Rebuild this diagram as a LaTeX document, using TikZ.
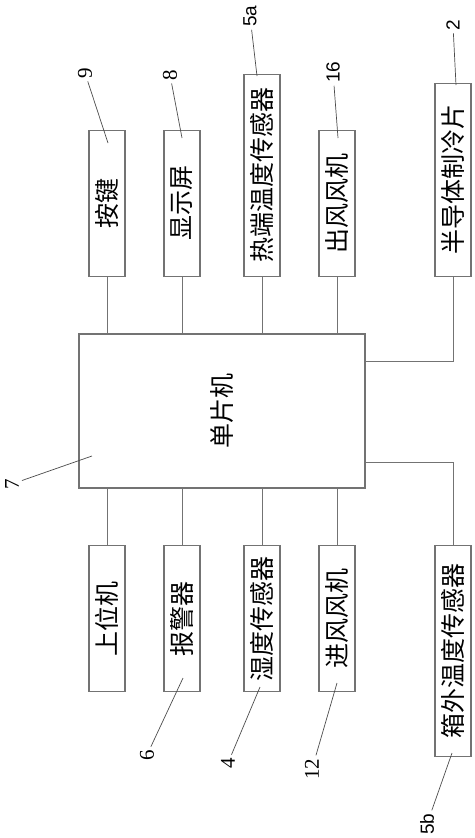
\documentclass[tikz,border=0pt]{standalone}
\usepackage{fontspec}
\setmainfont{Liberation Serif}
\newfontfamily\cjk{Noto Sans CJK SC}
\newfontfamily\numsans{Liberation Sans}
\usetikzlibrary{positioning}
\colorlet{linegray}{black!55}
\newcommand{\rottext}[1]{\rotatebox{90}{#1}}
\tikzset{
  box/.style={draw=linegray, line width=1.1pt, inner sep=0pt, minimum width=36pt,
    font={\cjk\fontsize{25}{25}\selectfont}},
  unit/.style={box, minimum height=146pt},
  tallunit/.style={box, minimum height=202pt},
  % connector styles
  wire/.style={draw=linegray, line width=0.9pt},
  leader/.style={draw=black!70, line width=0.7pt, shorten <=2pt},
  num/.style={rotate=90, inner sep=1pt, font={\fontsize{21}{21}\selectfont}},
  numsf/.style={num, font={\numsans\fontsize{19}{19}\selectfont}}
}

\begin{document}
\begin{tikzpicture}[x=1pt, y=-1pt]
\useasboundingbox (0,0) rectangle (474,838);

% central controller
\node [box, minimum width=286pt, minimum height=154pt] (mcu) at (222,411) {\rottext{单片机}};

% -------------------------------------------------
% upper row, bottom edges on one line
\node [unit, anchor=south] (key) at (107,277) {\rottext{按键}};
\node [unit, anchor=south] (screen) at (182,277) {\rottext{显示屏}};
\node [tallunit, anchor=south] (hotsens) at (262,277) {\rottext{热端温度传感器}};
\node [unit, anchor=south] (outfan) at (337,277) {\rottext{出风风机}};
\node [box, minimum height=193pt, anchor=south] (peltier) at (453,277) {\rottext{半导体制冷片}};

% lower row, top edges on one line
\node [unit, anchor=north] (host) at (107,545) {\rottext{上位机}};
\node [unit, anchor=north] (alarm) at (182,545) {\rottext{报警器}};
\node [unit, anchor=north] (humsens) at (262,545) {\rottext{湿度传感器}};
\node [unit, anchor=north] (infan) at (337,545) {\rottext{进风风机}};
\node [box, minimum height=211pt, anchor=north] (outsens) at (453,545) {\rottext{箱外温度传感器}};

% wiring to the controller
\draw [wire] (key.south) -- (key.south |- mcu.north);
\draw [wire] (screen.south) -- (screen.south |- mcu.north);
\draw [wire] (hotsens.south) -- (hotsens.south |- mcu.north);
\draw [wire] (outfan.south) -- (outfan.south |- mcu.north);
\draw [wire] (host.north) -- (host.north |- mcu.south);
\draw [wire] (alarm.north) -- (alarm.north |- mcu.south);
\draw [wire] (humsens.north) -- (humsens.north |- mcu.south);
\draw [wire] (infan.north) -- (infan.north |- mcu.south);
\coordinate (pjoin) at (mcu.east |- 0,361);
\coordinate (ojoin) at (mcu.east |- 0,462);
\draw [wire] (peltier.south) |- (pjoin);
\draw [wire] (outsens.north) |- (ojoin);

% -------------------------------------------------
% reference numbers
\node [num] (n9) at (85,73) {9};
\node [num] (n8) at (170,75) {8};
\node [numsf] (n5a) at (250,16) {5a};
\node [numsf] (n16) at (333,72) {16};
\node [numsf] (n2) at (453,25) {2};
\node [num] (n7) at (12,484) {7};
\node [num] (n6) at (147,755) {6};
\node [num] (n4) at (228,763) {4};
\node [num] (n12) at (312,769) {12};
\node [numsf] (n5b) at (427,824) {5b};

\coordinate (t9) at (108,143);
\coordinate (t8) at (182,138);
\coordinate (t5a) at (257,76);
\coordinate (t16) at (338,138);
\coordinate (t2) at (456,85);
\coordinate (t7) at (92,456);
\coordinate (t6) at (183,678);
\coordinate (t4) at (260,687);
\coordinate (t12) at (337,683);
\coordinate (t5b) at (452,753);

\draw [leader] (n9) -- (t9);
\draw [leader] (n8) -- (t8);
\draw [leader] (n5a) -- (t5a);
\draw [leader] (n16) -- (t16);
\draw [leader] (n2) -- (t2);
\draw [leader] (n7) -- (t7);
\draw [leader] (n6) -- (t6);
\draw [leader] (n4) -- (t4);
\draw [leader] (n12) -- (t12);
\draw [leader] (n5b) -- (t5b);
\end{tikzpicture}
\end{document}
